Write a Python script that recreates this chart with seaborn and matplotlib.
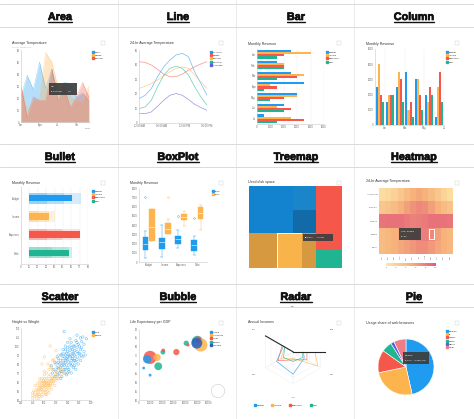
import numpy as np
import pandas as pd
import matplotlib.pyplot as plt
import seaborn as sns
from matplotlib.colors import LinearSegmentedColormap, Normalize
from matplotlib.patches import Rectangle, FancyBboxPatch
from matplotlib.lines import Line2D
from matplotlib.cm import ScalarMappable
import matplotlib.patheffects as pe

sns.set_style('white')
plt.rcParams['font.family'] = ['Liberation Sans', 'DejaVu Sans']
plt.rcParams['patch.force_edgecolor'] = False

BLUE = '#1f9bf0'
ORANGE = '#fdb44e'
RED = '#f5574a'
TEAL = '#1fb592'
NAVY = '#5b61d6'
PINK = '#ef7d87'

# ---- data ----
months = ['Jan', 'Feb', 'Mar', 'Apr', 'May', 'Jun', 'Jul', 'Aug', 'Sep', 'Oct', 'Nov', 'Dec']

area_labels = ['Seoul', 'Madrid', 'Phoenix']
area_blue = [21, 39, 27, 50, 28, 44, 24, 33, 32, 21, 24, 18]
area_orange = [29, 10, 18, 18, 58, 50, 29, 32, 21, 18, 17, 30]
area_red = [30, 4, 21, 18, 18, 44, 18, 29, 12, 21, 33, 21]

line_labels = ['St. Paul', 'Seattle', 'Phoenix', 'Montreal', 'Anaheim']
line_blue = [16.7, 19, 23.6, 31.7, 38.5, 43.1, 46.6, 47.7, 45.4, 35.1, 27.1, 19]
line_red = [42, 41.5, 39.7, 36.7, 33.5, 31.7, 31.7, 33.5, 36.2, 38.5, 40.4, 42]
line_yellow = [23.6, 25.2, 27.1, 29.4, 32.1, 35.1, 37.4, 38.5, 37.4, 32.8, 28.2, 23.6]
line_teal = [9.9, 11, 15.6, 24.8, 32.8, 37.4, 39, 37.4, 32.8, 24.8, 17.9, 12.2]
line_purple = [6.4, 6.4, 7.6, 11.5, 15.6, 19, 20.2, 19, 16.1, 12.8, 10.6, 8.7]

rev_months = ['Jan', 'Feb', 'Mar', 'Apr', 'May', 'Jun', 'Jul']
rev_series = ['Budget', 'Income', 'Expenses', 'Debt']
rev_budget = [2500, 1500, 2500, 3500, 3000, 2000, 500]
rev_income = [4000, 2000, 3500, 1000, 3000, 1500, 2500]
rev_expenses = [2000, 2000, 3000, 1500, 2000, 2500, 3500]
rev_debt = [1500, 2000, 1500, 500, 1000, 2000, 1500]

bullet_cats = ['Budget', 'Income', 'Expenses', 'Debt']
bullet_start = [10, 10, 10, 10]
bullet_range_hi = [72, 41, 71, 61]
bullet_range_mid = [51, 33, 49, 57]
bullet_range_lo = [31, 20, 31, 37]
bullet_value = [61, 33, 71, 57]

box_cats = ['Budget', 'Income', 'Expenses', 'Debt']
box_years = ['2016', '2017']
box16_lo = [400, 500, 1500, 800]
box16_q1 = [1300, 1400, 2000, 1200]
box16_med = [2000, 2200, 2500, 1800]
box16_q3 = [2700, 2600, 2800, 2400]
box16_hi = [3400, 4000, 3500, 2800]
box16_out = [7000, None, 5000, 4800]
box17_lo = [2500, 3000, 3900, 3500]
box17_q1 = [2300, 3000, 4500, 4700]
box17_med = [3800, 3600, 4900, 5300]
box17_q3 = [5700, 4200, 5200, 5900]
box17_hi = [5700, 4700, 5500, 6200]
box17_out = [None, 7000, None, None]

tree_blue = [26.7, 7.3, 6.9]
tree_orange = [13.0, 11.6, 6.6]
tree_red = [21.9]
tree_teal = [6.0]

heat_rows = ['Anchorage', 'Honolulu', 'Phoenix', 'Seattle', 'Miami']
heat_vals = [
    [10, 14, 20, 30, 40, 50, 55, 50, 40, 30, 18, 10],
    [30, 34, 40, 50, 60, 68, 74, 70, 60, 50, 40, 34],
    [85, 86, 86, 86, 82, 78, 80, 82, 86, 86, 86, 85],
    [40, 44, 50, 56, 62, 70, 75, 80, 74, 60, 50, 44],
    [40, 44, 50, 56, 60, 66, 70, 70, 64, 56, 50, 44],
]

male_h = [175, 178, 180, 182, 185, 172, 176, 179, 181, 183, 186, 188, 190, 170, 174, 177, 184, 187, 189, 192,
          178, 180, 182, 176, 173, 171, 185, 187, 183, 179, 181, 184, 186, 188, 175, 177, 180, 182, 178, 174,
          191, 193, 189, 185, 187, 183, 169, 172, 176, 194, 180, 178, 182, 186, 190, 184, 181, 179, 177, 175,
          188, 174, 168, 171, 183, 177, 191,
          170, 172, 174, 176, 178, 180, 182, 184, 186, 188, 190, 192, 194, 196, 173, 175, 177, 179, 181, 183,
          185, 187, 189, 191, 193, 195, 171, 169, 167, 166, 180, 182, 184, 186, 178, 176, 174, 180, 188, 192]
male_w = [78, 82, 85, 88, 92, 75, 80, 79, 90, 84, 95, 98, 100, 72, 84, 70, 80, 88, 92, 105,
          90, 76, 95, 86, 80, 68, 100, 82, 78, 92, 82, 86, 90, 85, 72, 88, 94, 80, 74, 76,
          96, 110, 102, 84, 106, 98, 66, 82, 92, 94, 70, 96, 100, 78, 88, 92, 74, 86, 78, 90,
          112, 64, 74, 88, 104, 116, 109,
          80, 86, 90, 96, 100, 104, 108, 96, 100, 94, 92, 98, 102, 108, 70, 66, 74, 68, 72, 70,
          76, 74, 80, 84, 88, 90, 76, 82, 70, 78, 88, 90, 88, 84, 84, 82, 72, 98, 104, 90]
female_h = [160, 162, 164, 158, 165, 163, 161, 159, 166, 168, 157, 155, 153, 156, 160, 162, 164, 167, 169, 170,
            163, 165, 161, 158, 159, 162, 166, 164, 160, 157, 154, 152, 156, 170, 172, 168, 167, 165, 163, 161,
            158, 155, 153, 150, 171, 173, 169, 166, 164, 162, 160, 159, 157, 175, 174, 160, 156, 165, 150, 152,
            165, 170, 160, 168, 158, 172,
            150, 151, 152, 154, 155, 156, 157, 158, 159, 160, 161, 162, 163, 164, 165, 166, 167, 168, 169, 170,
            171, 172, 173, 174, 176, 178, 154, 156, 158, 160, 162, 164, 166, 163, 167, 170, 155, 158, 161, 153]
female_w = [55, 58, 60, 52, 62, 56, 54, 50, 64, 66, 48, 46, 45, 52, 60, 52, 66, 58, 70, 62,
            62, 56, 48, 58, 56, 64, 60, 54, 50, 55, 50, 44, 44, 72, 68, 60, 74, 68, 50, 60,
            46, 54, 52, 42, 64, 76, 56, 52, 48, 46, 64, 62, 60, 70, 80, 72, 64, 78, 48, 56,
            100, 95, 88, 85, 80, 90,
            45, 50, 48, 46, 50, 56, 52, 54, 60, 58, 56, 60, 58, 56, 58, 62, 64, 62, 64, 66,
            70, 64, 66, 72, 74, 70, 58, 60, 64, 68, 70, 74, 76, 80, 84, 82, 42, 44, 46, 40]

bub_regions = ['Africa', 'Americas', 'Asia', 'Europe', 'Oceania']
bub_gdp = [9500, 7000, 15500, 16500, 20500, 20800, 32000, 40500, 42000, 50000, 53000, 50500, 49500, 4000, 9500]
bub_life = [74, 73, 74, 69, 77, 78, 77, 82, 81, 83, 81, 84, 82, 68, 64]
bub_pop = [900, 350, 250, 300, 100, 40, 180, 120, 30, 650, 900, 200, 600, 15, 20]
bub_region = ['Asia', 'Africa', 'Americas', 'Europe', 'Europe', 'Asia', 'Asia', 'Europe', 'Asia',
              'Europe', 'Americas', 'Asia', 'Oceania', 'Africa', 'Africa']

radar_axes = ['Jan', 'Feb', 'Mar', 'Apr', 'May', 'Jun']
radar_budget = [30, 35, 40, 70, 60, 35]
radar_income = [80, 70, 90, 20, 45, 30]
radar_expenses = [35, 50, 50, 25, 55, 40]
radar_debt = [25, 30, 35, 30, 35, 30]

pie_labels = ['Chrome', 'IE', 'Firefox', 'Safari', 'Opera', 'Other']
pie_share = [46, 25, 13, 6, 2, 7]

HEADERS = [['Area', 'Line', 'Bar', 'Column'],
           ['Bullet', 'BoxPlot', 'Treemap', 'Heatmap'],
           ['Scatter', 'Bubble', 'Radar', 'Pie']]

# ---- layout helpers (pixel positions inside each cell) ----
W, H = 474, 419
fig = plt.figure(figsize=(W / 100, H / 100), dpi=100)


def px(col, row, x, y):
    return ((col * 118 + x) / W, 1 - (row * 140 + y) / H)


def place(col, row, x0, y0, x1, y1, **kw):
    l, t = px(col, row, x0, y0)
    r, b = px(col, row, x1, y1)
    return fig.add_axes([l, b, r - l, t - b], **kw)


def style(ax, grid=None):
    sns.despine(ax=ax)
    for s in ['left', 'bottom']:
        ax.spines[s].set_color('#c8c8c8')
        ax.spines[s].set_linewidth(0.4)
    ax.tick_params(labelsize=1.8, colors='#666666', length=0, pad=1)
    ax.set_xlabel('')
    ax.set_ylabel('')
    if grid:
        ax.grid(axis=grid, color='#e8e8e8', lw=0.3)
        ax.set_axisbelow(True)


def chart_title(col, row, text, x=12, y=43):
    fig.text(*px(col, row, x, y), text, fontsize=2.6, color='#333333', va='center')
    fig.add_artist(FancyBboxPatch(px(col, row, 101, 45), 4 / W, 4 / H, boxstyle='round,pad=0',
                                  transform=fig.transFigure, fc='none', ec='#cccccc', lw=0.3))


def legend(col, row, labels, colors, x=92, y=50, ncol=1):
    handles = [Line2D([], [], marker='s', ls='', color=c, markersize=1.5) for c in colors]
    fig.legend(handles, labels, loc='upper left', bbox_to_anchor=px(col, row, x, y), fontsize=1.7,
               frameon=False, handletextpad=0.3, labelspacing=0.7, borderpad=0, borderaxespad=0,
               ncol=ncol, columnspacing=3, handlelength=0.8)


def tooltip(col, row, x0, y0, w, h, lines):
    fig.add_artist(FancyBboxPatch(px(col, row, x0, y0 + h), w / W, h / H, boxstyle='round,pad=0',
                                  transform=fig.transFigure, fc='#3d3d3d', ec='none', alpha=0.92))
    for i, s in enumerate(lines):
        fig.text(*px(col, row, x0 + 2, y0 + 3.5 + i * 5), s, fontsize=1.7, color='white', va='center')


# ---- headers and separators ----
heads = []
for r in range(3):
    for yy in (4, 27):
        fig.add_artist(Line2D([0, 1], [1 - (r * 140 + yy) / H] * 2, color='#d5d5d5', lw=0.6))
    for c in range(4):
        heads.append(fig.text((c * 118 + 60) / W, 1 - (r * 140 + 20) / H, HEADERS[r][c], ha='center',
                              va='baseline', fontsize=7.8, fontweight='bold', color='#111111',
                              path_effects=[pe.withStroke(linewidth=0.5, foreground='#111111')]))
for c in (118, 236, 354):
    fig.add_artist(Line2D([c / W] * 2, [0, 1], color='#e2e2e2', lw=0.5))

fig.canvas.draw()
rend = fig.canvas.get_renderer()
for t in heads:
    bb = t.get_window_extent(rend)
    xb, yb = t.get_position()
    yline = yb - 1.8 / H
    fig.add_artist(Line2D([bb.x0 / W, bb.x1 / W], [yline, yline], color='#111111', lw=1.0))

# ---- Area ----
ax = place(0, 0, 21, 50, 90, 122)
xs = np.arange(12)
for vals, c in [(area_blue, BLUE), (area_orange, ORANGE), (area_red, RED)]:
    ax.fill_between(xs, vals, color=c, alpha=0.33, lw=0)
    ax.plot(xs, vals, color=c, lw=0.3, alpha=0.5)
ax.set_xlim(0, 11.2)
ax.set_ylim(0, 60)
ax.set_xticks([0, 3, 6, 9], ['Jan', 'Apr', 'Jul', 'Oct'])
ax.set_yticks(range(0, 61, 10))
style(ax)
chart_title(0, 0, 'Average Temperature')
fig.text(*px(0, 0, 12, 47), 'Source: climate data', fontsize=1.5, color='#aaaaaa', va='center')
fig.text(*px(0, 0, 85, 128), 'Month', fontsize=1.6, color='#888888', va='center')
legend(0, 0, area_labels, [BLUE, ORANGE, RED], y=51)
tooltip(0, 0, 49, 83, 28, 12, ['Mar', '\u25cf Phoenix          21'])

# ---- Line ----
ax = place(1, 0, 21, 50, 89, 123)
df = pd.DataFrame({'x': np.tile(xs, 5),
                   'temp': line_blue + line_red + line_yellow + line_teal + line_purple,
                   'city': np.repeat(line_labels, 12)})
sns.lineplot(data=df, x='x', y='temp', hue='city', ax=ax, lw=0.5, legend=False,
             palette=[BLUE, RED, ORANGE, TEAL, NAVY], alpha=0.65)
ax.set_xlim(0, 11)
ax.set_ylim(0, 50)
ax.set_xticks([0, 3.7, 7.3, 11], ['12:00 AM', '06:00 AM', '12:00 PM', '06:00 PM'])
ax.set_yticks(range(0, 51, 10))
style(ax)
chart_title(1, 0, '24-hr Average Temperature')
legend(1, 0, line_labels, [BLUE, RED, ORANGE, TEAL, NAVY], y=51)

# ---- Bar / Column ----
rev = pd.DataFrame({'month': np.tile(rev_months, 4),
                    'value': rev_budget + rev_income + rev_expenses + rev_debt,
                    'series': np.repeat(rev_series, 7)})
pal4 = [BLUE, ORANGE, RED, TEAL]
ax = place(2, 0, 21, 49, 88, 124)
sns.barplot(data=rev, y='month', x='value', hue='series', orient='h', palette=pal4, ax=ax,
            width=0.78, legend=False, saturation=1, linewidth=0)
ax.set_xlim(0, 5000)
ax.set_xticks(range(0, 5001, 1000))
style(ax, grid='x')
chart_title(2, 0, 'Monthly Revenue', y=44)
legend(2, 0, rev_series, pal4, x=90, y=51)

ax = place(3, 0, 21, 49, 90, 125)
sns.barplot(data=rev, x='month', y='value', hue='series', palette=pal4, ax=ax,
            width=0.82, legend=False, saturation=1, linewidth=0)
ax.set_ylim(0, 5000)
ax.set_yticks(range(0, 5001, 1000))
ax.set_xticks([0.5, 2.5, 4.5, 6.5], ['Jan', 'Mar', 'May', 'Jul'])
ax.set_xlim(-0.5, 6.5)
style(ax, grid='x')
chart_title(3, 0, 'Monthly Revenue', y=44)
legend(3, 0, rev_series, pal4, y=51)

# ---- Bullet ----
ax = place(0, 1, 21, 47, 88, 124)
yb = np.arange(4)
for i, c in enumerate(pal4):
    for hi in (bullet_range_hi[i], bullet_range_mid[i], bullet_range_lo[i]):
        ax.barh(yb[i], hi - bullet_start[i], left=bullet_start[i], height=0.6, color=c, alpha=0.18, lw=0)
    ax.barh(yb[i], bullet_value[i] - bullet_start[i], left=bullet_start[i], height=0.36, color=c, lw=0)
ax.set_yticks(yb, bullet_cats)
ax.set_ylim(3.6, -0.6)
ax.set_xlim(0, 80)
ax.set_xticks(range(0, 81, 10))
style(ax, grid='x')
chart_title(0, 1, 'Monthly Revenue')
legend(0, 1, rev_series, pal4, y=50)

# ---- BoxPlot ----
ax = place(1, 1, 21, 48, 89, 122)
for lo, q1, med, q3, hi, out, c, off in [
        (box16_lo, box16_q1, box16_med, box16_q3, box16_hi, box16_out, BLUE, -0.2),
        (box17_lo, box17_q1, box17_med, box17_q3, box17_hi, box17_out, ORANGE, 0.2)]:
    stats = [dict(whislo=min(lo[i], q1[i]), q1=q1[i], med=med[i], q3=q3[i], whishi=hi[i],
                  fliers=[out[i]] if out[i] else []) for i in range(4)]
    ax.bxp(stats, positions=np.arange(4) + off, widths=0.36, patch_artist=True,
           boxprops=dict(fc=c, ec=c, lw=0.3), medianprops=dict(color='white', lw=0.4),
           whiskerprops=dict(color=c, lw=0.3), capprops=dict(color=c, lw=0.3),
           flierprops=dict(marker='o', ms=1.2, mfc='none', mec=c, mew=0.3))
ax.set_xticks(range(4), box_cats)
ax.set_xlim(-0.6, 3.6)
ax.set_ylim(0, 8000)
ax.set_yticks(range(0, 8001, 1000))
style(ax)
chart_title(1, 1, 'Monthly Revenue')
legend(1, 1, box_years, [BLUE, ORANGE], x=94, y=50)

# ---- Treemap ----
ax = place(2, 1, 13, 46, 106, 128)


def split(rect, vals, horizontal):
    x, y, w, h = rect
    tot = sum(vals)
    out, pos = [], 0
    for v in vals:
        f = v / tot
        if horizontal:
            out.append((x + pos * w, y, f * w, h))
        else:
            out.append((x, y + h - (pos + f) * h, w, f * h))
        pos += f
    return out


left_col, right_col = split((0, 0, 1, 1), [sum(tree_blue) + sum(tree_orange), sum(tree_red) + sum(tree_teal)], True)
blue_r, orange_r = split(left_col, [sum(tree_blue), sum(tree_orange)], False)
red_r, teal_r = split(right_col, [sum(tree_red), sum(tree_teal)], False)
b_main, b_rest = split(blue_r, [tree_blue[0], sum(tree_blue[1:])], True)
b_sub = split(b_rest, tree_blue[1:], False)
o_rects = split(orange_r, tree_orange, True)
tiles = [(b_main, '#1383cf'), (b_sub[0], '#1a86c9'), (b_sub[1], '#136aa8'),
         (o_rects[0], '#d6993f'), (o_rects[1], '#f8b34b'), (o_rects[2], '#d6993f'),
         (red_r, '#f5574a'), (teal_r, '#1fb592')]
for i, (r, c) in enumerate(tiles):
    ax.add_patch(Rectangle(r[:2], r[2], r[3], fc=c, ec='white' if i == 4 else 'none', lw=0.6))
ax.set_xlim(0, 1)
ax.set_ylim(0, 1)
ax.axis('off')
chart_title(2, 1, 'Used disk space', y=42)
tooltip(2, 1, 67, 94, 30, 7, ['\u25a0 Docs      4.3 GB'])

# ---- Heatmap ----
ax = place(3, 1, 25, 48, 99, 114)
heat_cmap = LinearSegmentedColormap.from_list('heat', ['#fde6a8', '#f6b27a', '#e35a7a'])
sns.heatmap(np.array(heat_vals), cmap=heat_cmap, vmin=0, vmax=100, cbar=False, ax=ax,
            xticklabels=months, yticklabels=heat_rows)
ax.tick_params(labelsize=1.6, colors='#666666', length=0, pad=1)
ax.tick_params(axis='y', rotation=0)
ax.add_patch(Rectangle((8.1, 3.1), 0.8, 0.8, fc='none', ec='white', lw=0.7))
chart_title(3, 1, '24-hr Average Temperature', y=41)
tooltip(3, 1, 45, 88, 22, 12, ['Sep, Seattle', '\u25cf  80\u00b0'])
cax = place(3, 1, 32, 123, 82, 126)
cb = fig.colorbar(ScalarMappable(Normalize(0, 100), heat_cmap), cax=cax, orientation='horizontal')
cax.tick_params(labelsize=1.5, length=0, pad=0.5, colors='#666666')
cb.set_ticks([0, 20, 40, 60, 80, 100])
cb.outline.set_visible(False)

# ---- Scatter ----
ax = place(0, 2, 21, 48, 91, 120)
sc = pd.DataFrame({'h': male_h + female_h, 'w': male_w + female_w,
                   'g': ['male'] * len(male_h) + ['female'] * len(female_h)})
sns.scatterplot(data=sc, x='h', y='w', hue='g', palette=[BLUE, ORANGE], ax=ax, s=3,
                linewidth=0.35, legend=False, alpha=0.7)
ax.collections[0].set_facecolor('none')
ax.collections[0].set_edgecolor([BLUE if g == 'male' else ORANGE for g in sc['g']])
ax.set_xlim(140, 200)
ax.set_ylim(40, 120)
ax.set_xticks(range(140, 201, 10))
ax.set_yticks(range(40, 121, 10))
style(ax)
chart_title(0, 2, 'Height vs Weight', y=41.5)
legend(0, 2, ['male', 'female'], [BLUE, ORANGE], y=51)

# ---- Bubble ----
ax = place(1, 2, 21, 49, 91, 120)
bub = pd.DataFrame({'gdp': bub_gdp, 'life': bub_life, 'pop': bub_pop, 'region': bub_region})
reg_pal = dict(zip(bub_regions, [BLUE, ORANGE, RED, TEAL, '#2a5fc1']))
sns.scatterplot(data=bub, x='gdp', y='life', hue='region', size='pop', sizes=(4, 90),
                palette=reg_pal, ax=ax, alpha=0.85, linewidth=0, legend=False)
ax.set_xlim(0, 60000)
ax.set_ylim(50, 90)
ax.set_xticks(range(0, 60001, 10000))
ax.set_yticks(range(50, 91, 5))
style(ax)
chart_title(1, 2, 'Life Expectancy per GDP', y=42)
legend(1, 2, bub_regions, list(reg_pal.values()), y=51)
bax = place(1, 2, 93, 104, 107, 118)
bax.add_patch(plt.Circle((0.5, 0.5), 0.48, fc='none', ec='#bbbbbb', lw=0.3))
bax.set_xlim(0, 1)
bax.set_ylim(0, 1)
bax.axis('off')

# ---- Radar ----
ax = place(2, 2, 25, 48, 89, 112, projection='polar')
ang = np.pi / 2 - np.arange(6) * np.pi / 3
ring = np.append(ang, ang[0])
for lvl in (20, 40, 60, 80, 100):
    ax.plot(ring, [lvl] * 7, color='#ececec', lw=0.3)
for vals, c in [(radar_budget, BLUE), (radar_income, ORANGE), (radar_expenses, RED), (radar_debt, TEAL)]:
    ax.plot(ring, vals + vals[:1], color=c, lw=0.45, alpha=0.85)
ax.set_ylim(0, 100)
ax.set_xticks(ang, radar_axes)
ax.set_yticks([])
ax.tick_params(labelsize=1.7, colors='#555555', pad=-1)
ax.grid(color='#e5e5e5', lw=0.3)
ax.spines['polar'].set_visible(False)
chart_title(2, 2, 'Annual Incomes', y=42)
legend(2, 2, rev_series, pal4, x=18, y=124, ncol=4)

# ---- Pie ----
ax = place(3, 2, 17, 52, 87, 122)
ax.pie(pie_share, colors=[BLUE, ORANGE, RED, TEAL, NAVY, PINK], startangle=90, counterclock=False,
       wedgeprops=dict(edgecolor='white', linewidth=0.4))
ax.set_aspect('equal')
chart_title(3, 2, 'Usage share of web browsers', y=43)
legend(3, 2, pie_labels, [BLUE, ORANGE, RED, TEAL, NAVY, PINK], y=50)
tooltip(3, 2, 49, 72, 26, 12, ['Chrome', '\u25cf 46%   (1,989,412)'])

fig.savefig('out.png', dpi=100)
